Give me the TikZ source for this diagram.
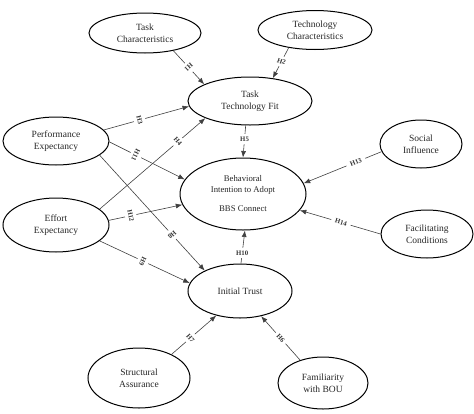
\documentclass[tikz,border=0pt]{standalone}
\usepackage{fontspec}
\setmainfont{Liberation Serif}
\usetikzlibrary{shapes.geometric,arrows.meta}
\tikzset{
  construct/.style={draw=black, line width=1pt, ellipse, inner sep=0pt, align=center,
    font=\fontsize{9.5}{11.5}\selectfont, text=black!85},
  link/.style={draw=black!75, line width=0.6pt, -{Latex[length=6.5pt,width=5pt]}},
  hyp/.style={fill=white, inner xsep=1.5pt, inner ysep=1.5pt, font=\fontsize{6.8}{7}\selectfont\bfseries, text=black!80},
  hypr/.style={hyp, sloped, rotate=-90, inner xsep=0.5pt, inner ysep=3.5pt},
}
\begin{document}
\begin{tikzpicture}[x=1pt,y=-1pt]
\useasboundingbox (0,0) rectangle (474,413);
\node[construct, minimum width=112, minimum height=40] (tc) at (145,33) {Task\\Characteristics};
\node[construct, minimum width=114, minimum height=39] (tec) at (315,30) {Technology\\Characteristics};
\node[construct, minimum width=124, minimum height=48] (ttf) at (250,101) {Task\\Technology Fit};
\node[construct, minimum width=106, minimum height=48] (pe) at (56,141) {Performance\\Expectancy};
\node[construct, minimum width=106, minimum height=54] (ee) at (56,225) {Effort\\Expectancy};
\node[construct, minimum width=126, minimum height=72, font=\fontsize{8.7}{11}\selectfont] (bi) at (243,194) {Behavioral\\Intention to Adopt\\[8pt]BBS Connect};
\node[construct, minimum width=82, minimum height=48] (si) at (421,144) {Social\\Influence};
\node[construct, minimum width=92, minimum height=48] (fc) at (427,234) {Facilitating\\Conditions};
\node[construct, minimum width=104, minimum height=54] (it) at (240,291) {Initial Trust};
\node[construct, minimum width=102, minimum height=60] (sa) at (139,378) {Structural\\Assurance};
\node[construct, minimum width=90, minimum height=52] (fb) at (323,383) {Familiarity\\with BOU};

\draw[link] (tc.-32) -- node[hypr, pos=0.5] {H1} (ttf.160);
\draw[link] (tec.-146) -- node[hyp, pos=0.45, rotate=-20, inner ysep=3pt] {H2} (ttf.45);
\draw[link] (pe.13) -- node[hypr, pos=0.42] {H3} (ttf.-175);
\draw[link] (ee.20) -- node[hypr, pos=0.74] {H4} (ttf.-159);
\draw[link] (ttf.-100) -- node[hyp, pos=0.42, inner ysep=3pt] {H5} (bi.90);
\draw[link] (pe.-1) -- node[hypr, pos=0.35] {H11} (bi.166);
\draw[link] (pe.-18) -- node[hypr, pos=0.69] {H8} (it.150);
\draw[link] (ee.5) -- node[hypr, pos=0.3] {H12} (bi.-170);
\draw[link] (ee.-20) -- node[hypr, pos=0.48] {H9} (it.171);
\draw[link] (si.-169) -- node[hyp, sloped, pos=0.33, inner xsep=4pt] {H13} (bi.10);
\draw[link] (fc.180) -- node[hyp, sloped, pos=0.49, inner xsep=4pt] {H14} (bi.-16);
\draw[link] (it.88) -- node[hyp, pos=0.32, inner ysep=3pt] {H10} (bi.-87);
\draw[link] (sa.36) -- node[hypr, pos=0.42] {H7} (it.-134);
\draw[link] (fb.135) -- node[hyp, sloped, pos=0.5, inner xsep=3pt] {H6} (it.-50);
\end{tikzpicture}
\end{document}
